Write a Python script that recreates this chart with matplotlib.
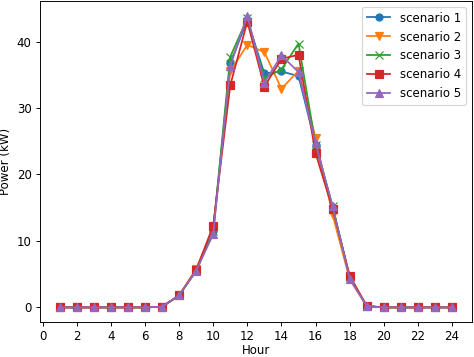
import numpy as np
import matplotlib
matplotlib.use('Agg')
import matplotlib.pyplot as plt

hours = list(range(1, 25))

s1 = [0, 0, 0, 0, 0, 0, 0.1, 1.8, 5.5, 11.5, 36.7, 43.2, 35.2, 35.5, 34.8, 24.5, 15.0, 4.5, 0.2, 0, 0, 0, 0, 0]
s2 = [0, 0, 0, 0, 0, 0, 0.1, 1.8, 5.8, 11.8, 35.5, 39.5, 38.4, 32.9, 35.6, 25.5, 13.9, 4.2, 0.2, 0, 0, 0, 0, 0]
s3 = [0, 0, 0, 0, 0, 0, 0.1, 1.8, 5.5, 11.5, 37.7, 43.5, 34.5, 35.8, 39.7, 24.5, 15.2, 4.5, 0.2, 0, 0, 0, 0, 0]
s4 = [0, 0, 0, 0, 0, 0, 0.1, 1.8, 5.6, 12.3, 33.4, 43.0, 33.2, 37.4, 38.0, 23.2, 14.8, 4.8, 0.2, 0, 0, 0, 0, 0]
s5 = [0, 0, 0, 0, 0, 0, 0.1, 1.8, 5.5, 11.0, 36.3, 43.9, 33.8, 37.9, 35.4, 24.7, 15.2, 4.3, 0.2, 0, 0, 0, 0, 0]

series = [s1, s2, s3, s4, s5]
labels = ['scenario 1', 'scenario 2', 'scenario 3', 'scenario 4', 'scenario 5']
markers = ['o', 'v', 'x', 's', '^']

fig = plt.figure(figsize=(474 / 85, 357 / 85), dpi=85)
ax = fig.add_axes([40 / 474, 35 / 357, 431.7 / 474, 321 / 357])

for vals, lab, mk in zip(series, labels, markers):
    ax.plot(hours, vals, marker=mk, label=lab)

ax.set_xticks(np.arange(0, 25, 2))
ax.set_xlabel('Hour', labelpad=1)
ax.set_ylabel('Power (kW)')
ax.legend(loc='upper right')

fig.savefig('out.png', dpi=85)
